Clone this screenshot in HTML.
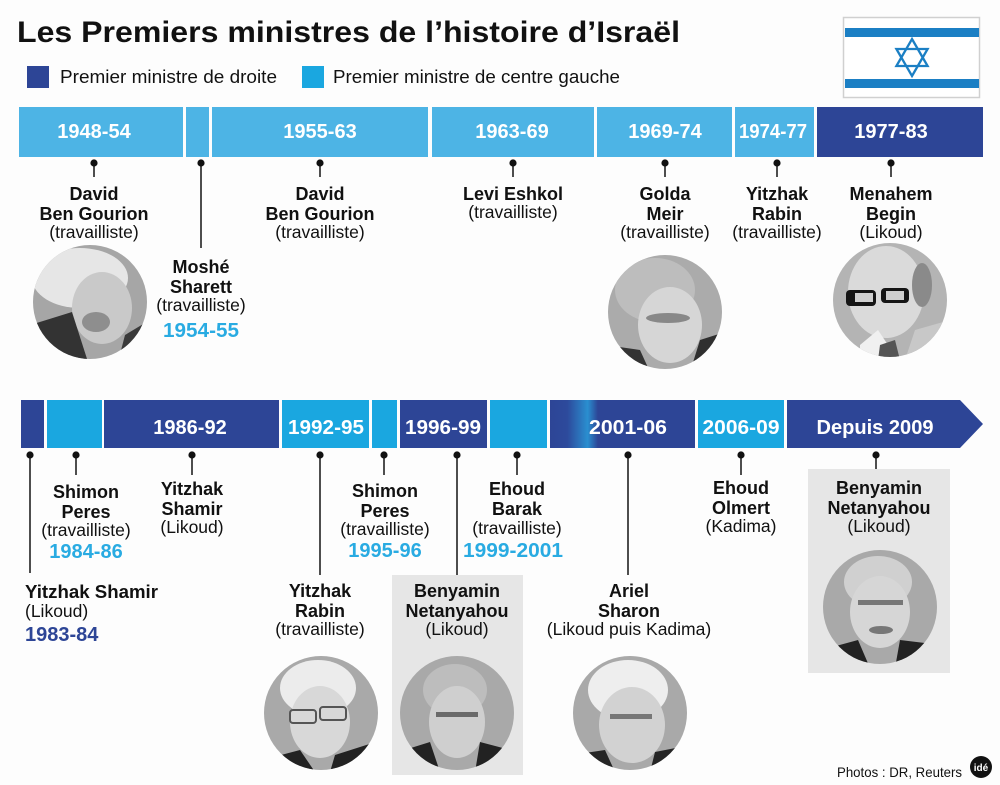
<!DOCTYPE html>
<html><head><meta charset="utf-8"><style>
html,body{margin:0;padding:0;background:#fdfdfd;}
svg{display:block;}
text{font-family:"Liberation Sans",sans-serif;}
.b{font-weight:bold;font-size:18px;fill:#111;}
.r{font-size:17.5px;fill:#111;}
.w{font-weight:bold;font-size:20px;fill:#fff;}
.y{font-weight:bold;font-size:20px;fill:#29abe2;}
</style></head><body>
<svg width="1000" height="785" viewBox="0 0 1000 785" xmlns="http://www.w3.org/2000/svg">
<defs>
<linearGradient id="g1" x1="550" y1="0" x2="695" y2="0" gradientUnits="userSpaceOnUse">
<stop offset="0" stop-color="#2d4596"/><stop offset="0.12" stop-color="#2d4a9c"/><stop offset="0.26" stop-color="#2a8fd0"/><stop offset="0.33" stop-color="#2d4596"/><stop offset="1" stop-color="#2d4596"/>
</linearGradient>
<clipPath id="c1"><circle cx="90" cy="302" r="57"/></clipPath>
<clipPath id="c2"><circle cx="665" cy="312" r="57"/></clipPath>
<clipPath id="c3"><circle cx="890" cy="300" r="57"/></clipPath>
<clipPath id="c4"><circle cx="321" cy="713" r="57"/></clipPath>
<clipPath id="c5"><circle cx="457" cy="713" r="57"/></clipPath>
<clipPath id="c6"><circle cx="630" cy="713" r="57"/></clipPath>
<clipPath id="c7"><circle cx="880" cy="607" r="57"/></clipPath>
</defs>
<rect width="1000" height="785" fill="#fdfdfd"/>

<!-- Title -->
<text x="17" y="42" font-weight="bold" font-size="30" fill="#111" textLength="663" lengthAdjust="spacingAndGlyphs">Les Premiers ministres de l’histoire d’Israël</text>

<!-- Legend -->
<rect x="27" y="66" width="22" height="22" fill="#2d4596"/>
<text x="60" y="83" font-size="18" fill="#111" textLength="217" lengthAdjust="spacingAndGlyphs">Premier ministre de droite</text>
<rect x="302" y="66" width="22" height="22" fill="#1aa7e0"/>
<text x="333" y="83" font-size="18" fill="#111" textLength="287" lengthAdjust="spacingAndGlyphs">Premier ministre de centre gauche</text>

<!-- Flag -->
<rect x="843.5" y="17.5" width="136" height="80" fill="#fff" stroke="#d0d0d0" stroke-width="1.5"/>
<rect x="845" y="28" width="134" height="9" fill="#1b7fc4"/>
<rect x="845" y="79" width="134" height="9" fill="#1b7fc4"/>
<polygon points="912,39 927.6,66 896.4,66" fill="none" stroke="#1b7fc4" stroke-width="2.3"/>
<polygon points="912,76 927.6,49 896.4,49" fill="none" stroke="#1b7fc4" stroke-width="2.3"/>

<!-- Top bar -->
<g fill="#4db4e5">
<rect x="19" y="107" width="164" height="50"/>
<rect x="186" y="107" width="23" height="50"/>
<rect x="212" y="107" width="216" height="50"/>
<rect x="432" y="107" width="162" height="50"/>
<rect x="597" y="107" width="135" height="50"/>
<rect x="735" y="107" width="79" height="50"/>
</g>
<rect x="817" y="107" width="166" height="50" fill="#2d4596"/>
<g class="w" text-anchor="middle">
<text class="w" x="94" y="138">1948-54</text>
<text class="w" x="320" y="138">1955-63</text>
<text class="w" x="512" y="138">1963-69</text>
<text class="w" x="665" y="138">1969-74</text>
<text class="w" x="773" y="138" textLength="68" lengthAdjust="spacingAndGlyphs">1974-77</text>
<text class="w" x="891" y="138">1977-83</text>
</g>

<!-- Top pins -->
<g stroke="#222" stroke-width="1.6">
<line x1="94" y1="163" x2="94" y2="177"/>
<line x1="201" y1="163" x2="201" y2="248"/>
<line x1="320" y1="163" x2="320" y2="177"/>
<line x1="513" y1="163" x2="513" y2="177"/>
<line x1="665" y1="163" x2="665" y2="177"/>
<line x1="777" y1="163" x2="777" y2="177"/>
<line x1="891" y1="163" x2="891" y2="177"/>
</g>
<g fill="#111">
<circle cx="94" cy="163" r="3.6"/><circle cx="201" cy="163" r="3.6"/><circle cx="320" cy="163" r="3.6"/>
<circle cx="513" cy="163" r="3.6"/><circle cx="665" cy="163" r="3.6"/><circle cx="777" cy="163" r="3.6"/><circle cx="891" cy="163" r="3.6"/>
</g>

<!-- Top names -->
<g text-anchor="middle">
<text class="b" x="94" y="200">David</text>
<text class="b" x="94" y="220">Ben Gourion</text>
<text class="r" x="94" y="238">(travailliste)</text>

<text class="b" x="201" y="273">Moshé</text>
<text class="b" x="201" y="293">Sharett</text>
<text class="r" x="201" y="311">(travailliste)</text>
<text class="y" x="201" y="337" textLength="76" lengthAdjust="spacingAndGlyphs">1954-55</text>

<text class="b" x="320" y="200">David</text>
<text class="b" x="320" y="220">Ben Gourion</text>
<text class="r" x="320" y="238">(travailliste)</text>

<text class="b" x="513" y="200">Levi Eshkol</text>
<text class="r" x="513" y="218">(travailliste)</text>

<text class="b" x="665" y="200">Golda</text>
<text class="b" x="665" y="220">Meir</text>
<text class="r" x="665" y="238">(travailliste)</text>

<text class="b" x="777" y="200">Yitzhak</text>
<text class="b" x="777" y="220">Rabin</text>
<text class="r" x="777" y="238">(travailliste)</text>

<text class="b" x="891" y="200">Menahem</text>
<text class="b" x="891" y="220">Begin</text>
<text class="r" x="891" y="238">(Likoud)</text>
</g>

<!-- Photos top -->
<g clip-path="url(#c1)">
<rect x="30" y="242" width="120" height="120" fill="#a6a6a6"/>
<ellipse cx="80" cy="278" rx="48" ry="30" fill="#e6e6e6"/>
<ellipse cx="102" cy="308" rx="30" ry="36" fill="#c9c9c9"/>
<ellipse cx="96" cy="322" rx="14" ry="10" fill="#8e8e8e"/>
<polygon points="30,325 72,312 88,362 30,362" fill="#333"/>
<polygon points="125,335 150,320 150,362 118,362" fill="#3a3a3a"/>
</g>
<g clip-path="url(#c2)">
<rect x="605" y="252" width="120" height="120" fill="#ababab"/>
<ellipse cx="655" cy="290" rx="40" ry="32" fill="#bdbdbd"/>
<ellipse cx="670" cy="325" rx="32" ry="38" fill="#d6d6d6"/>
<ellipse cx="668" cy="318" rx="22" ry="5" fill="#888"/>
<polygon points="605,345 640,350 650,372 605,372" fill="#333"/>
<polygon points="700,340 725,332 725,372 690,372" fill="#2f2f2f"/>
</g>
<g clip-path="url(#c3)">
<rect x="830" y="240" width="120" height="120" fill="#b4b4b4"/>
<ellipse cx="886" cy="292" rx="38" ry="46" fill="#dadada"/>
<ellipse cx="922" cy="285" rx="10" ry="22" fill="#8a8a8a"/>
<rect x="846" y="290" width="30" height="16" rx="4" fill="#151515"/>
<rect x="881" y="288" width="28" height="15" rx="4" fill="#151515"/>
<rect x="855" y="293" width="18" height="9" fill="#cfcfcf"/>
<rect x="886" y="291" width="18" height="9" fill="#cfcfcf"/>
<polygon points="860,345 878,330 898,360 860,360" fill="#f0f0f0"/>
<polygon points="915,330 950,320 950,360 905,360" fill="#c8c8c8"/>
<polygon points="880,345 895,340 900,360 878,360" fill="#555"/>
</g>

<!-- Bottom bar -->
<rect x="21" y="400" width="23" height="48" fill="#2d4596"/>
<rect x="47" y="400" width="55" height="48" fill="#1aa7e0"/>
<rect x="104" y="400" width="175" height="48" fill="#2d4596"/>
<rect x="282" y="400" width="87" height="48" fill="#1aa7e0"/>
<rect x="372" y="400" width="25" height="48" fill="#1aa7e0"/>
<rect x="400" y="400" width="87" height="48" fill="#2d4596"/>
<rect x="490" y="400" width="57" height="48" fill="#1aa7e0"/>
<rect x="550" y="400" width="145" height="48" fill="url(#g1)"/>
<rect x="698" y="400" width="86" height="48" fill="#1aa7e0"/>
<polygon points="787,400 960,400 983,424 960,448 787,448" fill="#2d4596"/>
<g text-anchor="middle">
<text class="w" x="190" y="434">1986-92</text>
<text class="w" x="326" y="434" textLength="76" lengthAdjust="spacingAndGlyphs">1992-95</text>
<text class="w" x="443" y="434" textLength="76" lengthAdjust="spacingAndGlyphs">1996-99</text>
<text class="w" x="628" y="434" textLength="78" lengthAdjust="spacingAndGlyphs">2001-06</text>
<text class="w" x="741" y="434" textLength="77" lengthAdjust="spacingAndGlyphs">2006-09</text>
<text class="w" x="875" y="434" textLength="117" lengthAdjust="spacingAndGlyphs">Depuis 2009</text>
</g>

<!-- Grey boxes -->
<rect x="392" y="575" width="131" height="200" fill="#e6e6e6"/>
<rect x="808" y="469" width="142" height="204" fill="#e6e6e6"/>

<!-- Bottom pins -->
<g stroke="#222" stroke-width="1.6">
<line x1="30" y1="455" x2="30" y2="573"/>
<line x1="76" y1="455" x2="76" y2="475"/>
<line x1="192" y1="455" x2="192" y2="475"/>
<line x1="320" y1="455" x2="320" y2="575"/>
<line x1="384" y1="455" x2="384" y2="475"/>
<line x1="457" y1="455" x2="457" y2="575"/>
<line x1="517" y1="455" x2="517" y2="475"/>
<line x1="628" y1="455" x2="628" y2="575"/>
<line x1="741" y1="455" x2="741" y2="475"/>
<line x1="876" y1="455" x2="876" y2="469"/>
</g>
<g fill="#111">
<circle cx="30" cy="455" r="3.6"/><circle cx="76" cy="455" r="3.6"/><circle cx="192" cy="455" r="3.6"/>
<circle cx="320" cy="455" r="3.6"/><circle cx="384" cy="455" r="3.6"/><circle cx="457" cy="455" r="3.6"/>
<circle cx="517" cy="455" r="3.6"/><circle cx="628" cy="455" r="3.6"/><circle cx="741" cy="455" r="3.6"/><circle cx="876" cy="455" r="3.6"/>
</g>

<!-- Bottom names -->
<g text-anchor="middle">
<text class="b" x="86" y="498">Shimon</text>
<text class="b" x="86" y="518">Peres</text>
<text class="r" x="86" y="536">(travailliste)</text>
<text class="y" x="86" y="558">1984-86</text>

<text class="b" x="192" y="495">Yitzhak</text>
<text class="b" x="192" y="515">Shamir</text>
<text class="r" x="192" y="533">(Likoud)</text>

<text class="b" x="320" y="597">Yitzhak</text>
<text class="b" x="320" y="617">Rabin</text>
<text class="r" x="320" y="635">(travailliste)</text>

<text class="b" x="385" y="497">Shimon</text>
<text class="b" x="385" y="517">Peres</text>
<text class="r" x="385" y="535">(travailliste)</text>
<text class="y" x="385" y="557">1995-96</text>

<text class="b" x="457" y="597">Benyamin</text>
<text class="b" x="457" y="617">Netanyahou</text>
<text class="r" x="457" y="635">(Likoud)</text>

<text class="b" x="517" y="495">Ehoud</text>
<text class="b" x="517" y="515">Barak</text>
<text class="r" x="517" y="534">(travailliste)</text>
<text class="y" x="513" y="557" textLength="100" lengthAdjust="spacingAndGlyphs">1999-2001</text>

<text class="b" x="629" y="597">Ariel</text>
<text class="b" x="629" y="617">Sharon</text>
<text class="r" x="629" y="635">(Likoud puis Kadima)</text>

<text class="b" x="741" y="494">Ehoud</text>
<text class="b" x="741" y="514">Olmert</text>
<text class="r" x="741" y="532">(Kadima)</text>

<text class="b" x="879" y="494">Benyamin</text>
<text class="b" x="879" y="514">Netanyahou</text>
<text class="r" x="879" y="532">(Likoud)</text>
</g>
<text class="b" x="25" y="598" textLength="133" lengthAdjust="spacingAndGlyphs">Yitzhak Shamir</text>
<text class="r" x="25" y="617">(Likoud)</text>
<text x="25" y="641" font-weight="bold" font-size="20" fill="#2d4596">1983-84</text>

<!-- Photos bottom -->
<g clip-path="url(#c4)">
<rect x="262" y="654" width="120" height="120" fill="#a9a9a9"/>
<ellipse cx="318" cy="688" rx="38" ry="28" fill="#ececec"/>
<ellipse cx="320" cy="722" rx="30" ry="36" fill="#d8d8d8"/>
<rect x="290" y="710" width="26" height="13" rx="3" fill="none" stroke="#555" stroke-width="2"/>
<rect x="320" y="707" width="26" height="13" rx="3" fill="none" stroke="#555" stroke-width="2"/>
<polygon points="262,760 300,750 315,772 262,772" fill="#222"/>
<polygon points="335,755 382,740 382,772 330,772" fill="#222"/>
</g>
<g clip-path="url(#c5)">
<rect x="398" y="654" width="120" height="120" fill="#a9a9a9"/>
<ellipse cx="455" cy="690" rx="32" ry="26" fill="#bdbdbd"/>
<ellipse cx="457" cy="722" rx="28" ry="36" fill="#cfcfcf"/>
<rect x="436" y="712" width="42" height="5" fill="#6a6a6a"/>
<polygon points="398,752 430,742 440,772 398,772" fill="#222"/>
<polygon points="480,742 518,752 518,772 475,772" fill="#222"/>
</g>
<g clip-path="url(#c6)">
<rect x="571" y="654" width="120" height="120" fill="#a9a9a9"/>
<ellipse cx="628" cy="690" rx="40" ry="30" fill="#eeeeee"/>
<ellipse cx="632" cy="725" rx="33" ry="38" fill="#d2d2d2"/>
<rect x="610" y="714" width="42" height="5" fill="#777"/>
<polygon points="571,755 605,750 615,772 571,772" fill="#252525"/>
<polygon points="655,752 691,745 691,772 650,772" fill="#252525"/>
</g>
<g clip-path="url(#c7)">
<rect x="821" y="548" width="120" height="120" fill="#a9a9a9"/>
<ellipse cx="878" cy="582" rx="34" ry="26" fill="#d0d0d0"/>
<ellipse cx="880" cy="612" rx="30" ry="36" fill="#d6d6d6"/>
<rect x="858" y="600" width="45" height="5" fill="#777"/>
<ellipse cx="881" cy="630" rx="12" ry="4" fill="#777"/>
<polygon points="821,650 858,640 870,668 821,668" fill="#222"/>
<polygon points="900,640 941,645 941,668 895,668" fill="#222"/>
</g>

<!-- Credits -->
<text x="837" y="777" font-size="14" fill="#111" textLength="125" lengthAdjust="spacingAndGlyphs">Photos : DR, Reuters</text>
<circle cx="981" cy="767" r="11" fill="#111"/>
<text x="981" y="771" font-size="10" font-weight="bold" fill="#fff" text-anchor="middle">idé</text>
</svg>
</body></html>
